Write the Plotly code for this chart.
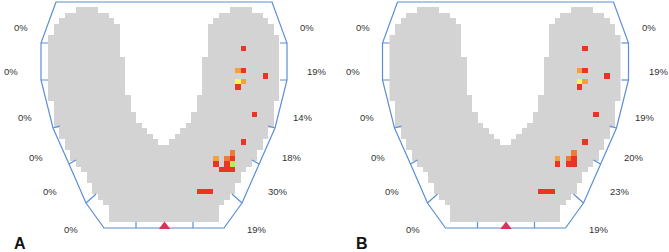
import numpy as np
import plotly.graph_objects as go

# ---------------- data ----------------
N_ROWS, N_COLS = 39, 42
# half-widths (in cells) of the arch outline and of the inner gap, per row (top -> bottom)
outer_half = [16, 18, 19, 20, 20] + [21] * 12 + [20] * 5 + [19] * 2 + [18] * 2 + [17] * 2 + [16] + [15] + [14] * 2 + [13] * 2 + [12] + [11] + [10] * 3
hole_half = [12, 10, 9] + [8] * 6 + [7] * 7 + [6] * 3 + [5] * 2 + [4, 3, 2, 1] + [0] * 14

# coloured cells: column, row, level (1 red, 2 orange-red, 3 orange, 4 yellow, 5 lime)
a_col = [35, 34, 35, 39, 34, 35, 34, 37, 35, 33, 30, 32, 33, 30, 32, 33, 31, 32, 33, 27, 28, 29]
a_row = [7, 11, 11, 12, 13, 13, 14, 19, 24, 26, 27, 27, 27, 28, 28, 28, 29, 29, 29, 33, 33, 33]
a_lvl = [1, 3, 1, 1, 4, 3, 1, 1, 1, 2, 3, 2, 1, 1, 1, 5, 1, 1, 1, 1, 1, 1]

b_col = [35, 34, 35, 39, 34, 35, 34, 37, 35, 33, 30, 32, 33, 30, 32, 33, 27, 28, 29]
b_row = [7, 11, 11, 12, 13, 13, 14, 19, 24, 26, 27, 27, 27, 28, 28, 28, 33, 33, 33]
b_lvl = [1, 3, 1, 1, 4, 3, 1, 1, 1, 2, 3, 2, 1, 1, 1, 1, 1, 1, 1]

left_labels_a = ["0%", "0%", "0%", "0%", "0%", "0%"]
right_labels_a = ["0%", "19%", "14%", "18%", "30%", "19%"]
left_labels_b = ["0%", "0%", "0%", "0%", "0%", "0%"]
right_labels_b = ["0%", "19%", "19%", "20%", "23%", "19%"]
panel_names = ["A", "B"]

# ---------------- geometry (cell units; 1 cell = 5.5 px) ----------------
CELL = 5.5
GX0, GY0 = 48.0, 7.0          # grid origin inside a panel (px)
MID = 2 * (164.0 - GX0) / CELL  # mirror constant


def u(px):
    return (px - GX0) / CELL


def v(py):
    return (py - GY0) / CELL


left_outline_px = [(56, 2), (41, 43), (41, 80), (53, 128), (69, 164), (86, 203), (104, 228)]
left_ticks_px = [((41, 43), (48, 43)), ((41, 80), (48, 80)), ((53, 128), (60, 126)),
                 ((69, 164), (76, 160)), ((86, 203), (96, 194))]
bottom_ticks_px = [136, 193]
label_pos_px = [(21, 27), (11, 71), (25, 117), (36, 157), (50, 191), (71, 229)]

BLUE = "#5B8ED6"
GRAY = "#D3D3D3"
colorscale = [[0, GRAY], [0.1, GRAY], [0.1, "#EC3426"], [0.3, "#EC3426"],
              [0.3, "#F07A36"], [0.5, "#F07A36"], [0.5, "#F3A043"], [0.7, "#F3A043"],
              [0.7, "#FAF65C"], [0.9, "#FAF65C"], [0.9, "#B6EE4A"], [1, "#B6EE4A"]]


def build_z(cols, rows, lvls):
    z = np.full((N_ROWS, N_COLS), np.nan)
    c = N_COLS // 2
    for r in range(N_ROWS):
        for k in range(c - outer_half[r], c + outer_half[r]):
            if not (c - hole_half[r] <= k < c + hole_half[r]):
                z[r, k] = 0
    for cc, rr, ll in zip(cols, rows, lvls):
        z[rr, cc] = ll
    return z


fig = go.Figure()
panels = [
    (a_col, a_row, a_lvl, left_labels_a, right_labels_a, "x", "y"),
    (b_col, b_row, b_lvl, left_labels_b, right_labels_b, "x2", "y"),
]
annotations = []
FONT = "Liberation Sans, Arial"
for i, (cols, rows, lvls, ll, rl, xa, ya) in enumerate(panels):
    z = build_z(cols, rows, lvls)
    fig.add_trace(go.Heatmap(z=z, x=np.arange(N_COLS) + 0.5, y=np.arange(N_ROWS) + 0.5,
                             zmin=0, zmax=5, colorscale=colorscale, showscale=False,
                             hoverinfo="skip", xaxis=xa, yaxis=ya))
    # outline
    lo = [(u(x), v(y)) for x, y in left_outline_px]
    ro = [(MID - a, b) for a, b in reversed(lo)]
    pts = lo + ro + [lo[0]]
    fig.add_trace(go.Scatter(x=[p[0] for p in pts], y=[p[1] for p in pts], mode="lines",
                             line=dict(color=BLUE, width=1.2), hoverinfo="skip",
                             showlegend=False, xaxis=xa, yaxis=ya))
    tx, ty = [], []
    for (p0, p1) in left_ticks_px:
        for sgn in (0, 1):
            x0, x1 = u(p0[0]), u(p1[0])
            if sgn:
                x0, x1 = MID - x0, MID - x1
            tx += [x0, x1, None]
            ty += [v(p0[1]), v(p1[1]), None]
    for bx in bottom_ticks_px:
        tx += [u(bx), u(bx), None]
        ty += [v(228), v(222), None]
    fig.add_trace(go.Scatter(x=tx, y=ty, mode="lines", line=dict(color=BLUE, width=1.2),
                             hoverinfo="skip", showlegend=False, xaxis=xa, yaxis=ya))
    # marker triangle
    fig.add_trace(go.Scatter(x=[u(164.5)], y=[v(226.5)], mode="markers",
                             marker=dict(symbol="triangle-up", size=10, color="#D8335C"),
                             hoverinfo="skip", showlegend=False, xaxis=xa, yaxis=ya))
    for (px, py), lt, rt in zip(label_pos_px, ll, rl):
        annotations.append(dict(x=u(px), y=v(py), xref=xa, yref=ya, text=lt, showarrow=False,
                                font=dict(size=9.5, color="#333333", family=FONT)))
        annotations.append(dict(x=MID - u(px), y=v(py), xref=xa, yref=ya, text=rt, showarrow=False,
                                font=dict(size=9.5, color="#333333", family=FONT)))
    annotations.append(dict(x=u(20), y=v(243), xref=xa, yref=ya, text="<b>%s</b>" % panel_names[i],
                            showarrow=False, font=dict(size=16, color="#111111", family=FONT)))

W, H = 669, 252
xr_a = [u(0), u(W / 2)]
xr_b = [u(0) + (W / 2 - 341.5) / CELL, u(W / 2) + (W / 2 - 341.5) / CELL]
ax = dict(visible=False, showgrid=False, zeroline=False, fixedrange=True)
fig.update_layout(
    width=W, height=H, margin=dict(l=0, r=0, t=0, b=0),
    paper_bgcolor="white", plot_bgcolor="white", showlegend=False,
    xaxis=dict(domain=[0, 0.5], range=xr_a, **ax),
    xaxis2=dict(domain=[0.5, 1], range=xr_b, **ax),
    yaxis=dict(domain=[0, 1], range=[v(H), v(0)], **ax),
    annotations=annotations,
)
fig.write_html("out.html", config={"staticPlot": True},
               post_script="document.body.style.margin='0';document.body.style.overflow='hidden';")
